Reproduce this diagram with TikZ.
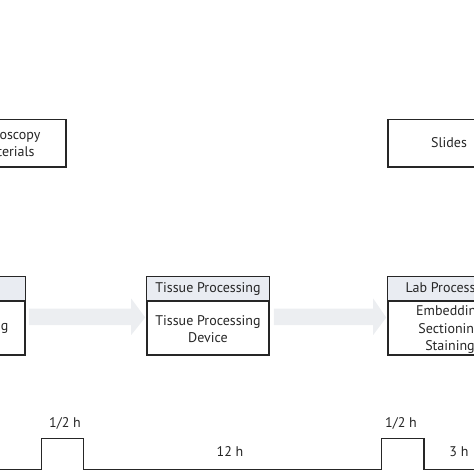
\documentclass[tikz,border=0pt]{standalone}
\usepackage{fontspec}
\setmainfont{PT Sans}
\usetikzlibrary{calc}
\definecolor{ln}{HTML}{262626}
\definecolor{hdr}{HTML}{E9ECF2}
\definecolor{arr}{HTML}{ECEEF1}
\tikzset{
  box/.style={draw=ln, line width=1.6pt, minimum width=122pt, inner sep=0pt},
  lbl/.style={font=\fontsize{14}{17.5}\selectfont, text=ln, inner sep=0pt, align=center},
  bigarrow/.style={fill=arr, draw=none},
  tl/.style={draw=ln, line width=1.4pt},
}
\begin{document}
\begin{tikzpicture}[x=1pt,y=-1pt]
\useasboundingbox (0,0) rectangle (474,474);
\clip (0,0) rectangle (474,474);
% top row
\node[box, minimum height=47.4pt] (mic) at (5,143) {};
\node[lbl] (mict) at (7,143) {Microscopy\\Materials};
\node[box, minimum height=47.4pt] (sl) at (449,143) {};
\node[lbl] (slt) at (449,143) {Slides};
% middle row boxes
\foreach \n/\x in {fx/-36, tp/208, lab/449}{
  \node[box, minimum height=78.3pt] (\n) at (\x,316) {};
  \fill[hdr] ($(\n.north west)+(0.8,0.8)$) rectangle ($(\n.north east)+(-0.8,25)$);
  \draw[ln, line width=1.6pt] ($(\n.north west)+(0,25)$) -- ($(\n.north east)+(0,25)$);
}
\node[lbl, anchor=east] (fxt) at (8.5,328.5) {g};
\node[lbl] (tph) at (208,289.5) {Tissue Processing};
\node[lbl] (tpb) at (208,329) {Tissue Processing\\Device};
\node[lbl] (labh) at (450,289.5) {Lab Processing};
\node[lbl] (labb) at (450,330) {Embedding\\Sectioning\\Staining};
% big arrows
\fill[bigarrow] ($(fx.east)+(3,-7.5)$) -- ($(tp.west)+(-15,-7.5)$) -- ($(tp.west)+(-15,-17.5)$)
  -- ($(tp.west)+(-1,1.5)$) -- ($(tp.west)+(-15,19)$) -- ($(tp.west)+(-15,9)$) -- ($(fx.east)+(3,9)$) -- cycle;
\fill[bigarrow] ($(tp.east)+(4,-7.5)$) -- ($(lab.west)+(-14,-7.5)$) -- ($(lab.west)+(-14,-17.5)$)
  -- ($(lab.west)+(-1,1.5)$) -- ($(lab.west)+(-14,19)$) -- ($(lab.west)+(-14,9)$) -- ($(tp.east)+(4,9)$) -- cycle;
% timeline
\coordinate (t0) at (0,469.3);
\coordinate (p1a) at (41.7,469.3);
\coordinate (p1b) at (83.3,438.3);
\coordinate (p2a) at (381.7,469.3);
\coordinate (p2b) at (424,438.3);
\coordinate (t1) at (474,469.3);
\draw[tl] (t0) -- (p1a) |- (p1b) |- (p2a) |- (p2b) |- (t1);
\node[lbl] (h1) at (65,423) {1/2 h};
\node[lbl] (h2) at (401,423) {1/2 h};
\node[lbl] (h12) at (230,452) {12 h};
\node[lbl] (h3) at (459,452) {3 h};
\end{tikzpicture}
\end{document}
